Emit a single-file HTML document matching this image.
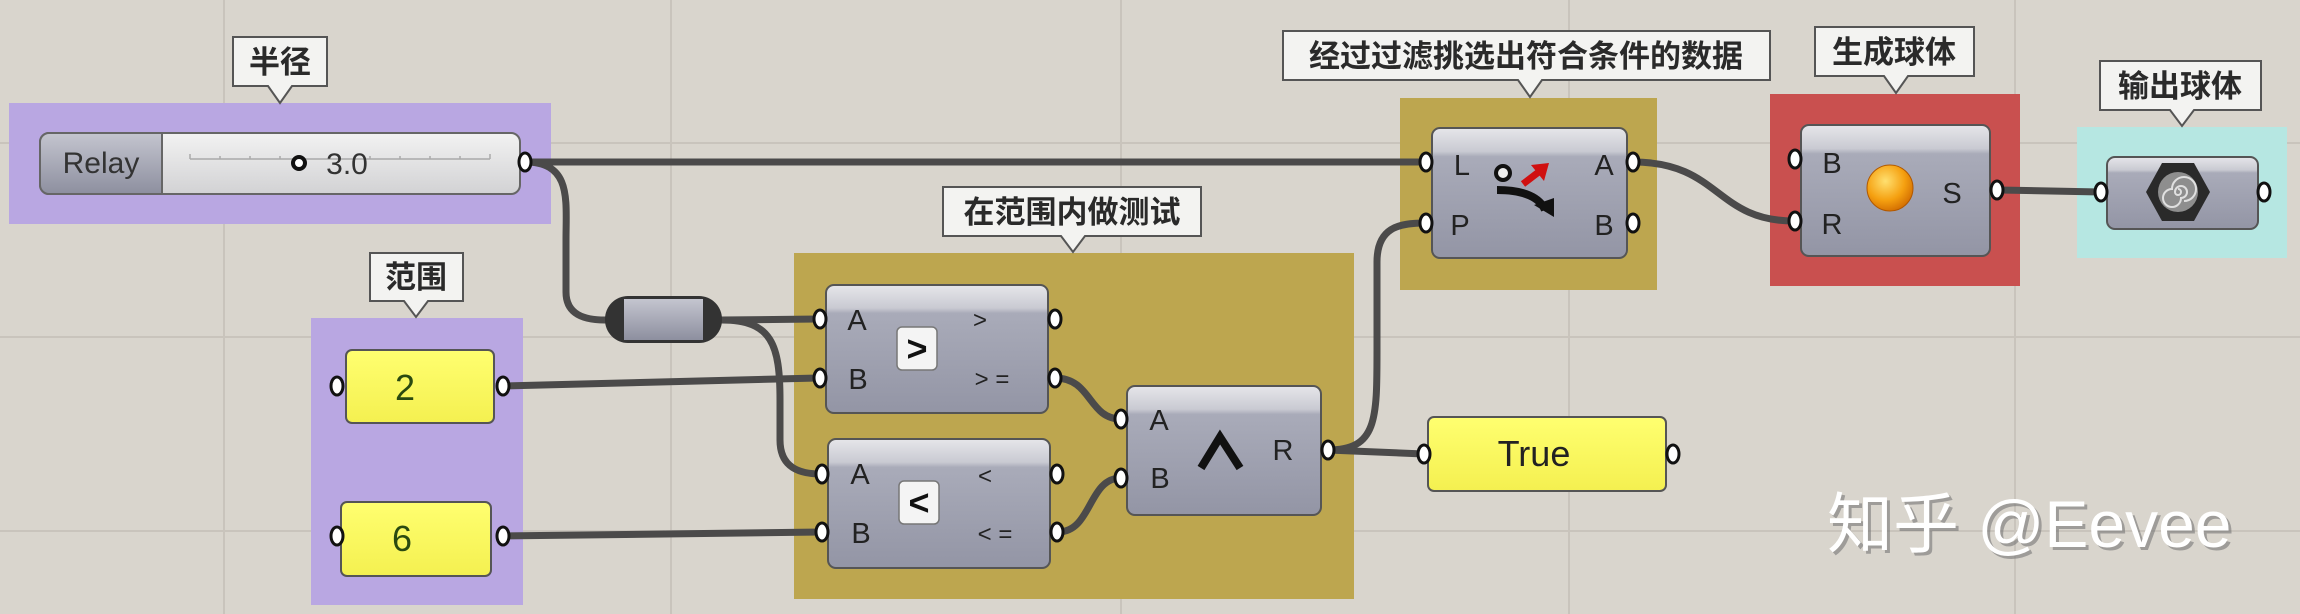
<!DOCTYPE html>
<html><head><meta charset="utf-8"><style>
html,body{margin:0;padding:0;background:#d9d5cd;}
svg{display:block}
text{font-family:"Liberation Sans","Noto Sans CJK SC",sans-serif;}
</style></head><body>
<svg width="2300" height="614" viewBox="0 0 2300 614" xmlns="http://www.w3.org/2000/svg">
<defs>
<linearGradient id="cg" x1="0" y1="0" x2="0" y2="1">
<stop offset="0" stop-color="#e6e6ea"/><stop offset="0.18" stop-color="#c9cad2"/><stop offset="0.22" stop-color="#a9abb9"/><stop offset="1" stop-color="#9395a5"/>
</linearGradient>
<linearGradient id="sl" x1="0" y1="0" x2="0" y2="1">
<stop offset="0" stop-color="#f2f2f2"/><stop offset="1" stop-color="#d2d2d4"/>
</linearGradient>
<linearGradient id="rb" x1="0" y1="0" x2="0" y2="1">
<stop offset="0" stop-color="#c4c5cf"/><stop offset="1" stop-color="#8d8f9f"/>
</linearGradient>
<linearGradient id="yl" x1="0" y1="0" x2="0" y2="1">
<stop offset="0" stop-color="#ffff70"/><stop offset="1" stop-color="#f4f050"/>
</linearGradient>
<radialGradient id="orb" cx="0.4" cy="0.35" r="0.7">
<stop offset="0" stop-color="#ffe070"/><stop offset="0.6" stop-color="#f5a010"/><stop offset="1" stop-color="#d06a00"/>
</radialGradient>
</defs>
<rect width="2300" height="614" fill="#d9d5cd"/>
<g stroke="#c9c4bc" stroke-width="2">
<line x1="224" y1="0" x2="224" y2="614"/><line x1="671" y1="0" x2="671" y2="614"/>
<line x1="1121" y1="0" x2="1121" y2="614"/><line x1="1569" y1="0" x2="1569" y2="614"/>
<line x1="2015" y1="0" x2="2015" y2="614"/>
<line x1="0" y1="143" x2="2300" y2="143"/><line x1="0" y1="337" x2="2300" y2="337"/><line x1="0" y1="531" x2="2300" y2="531"/>
</g>
<rect x="9" y="103" width="542" height="121" fill="#b9a7e2"/>
<rect x="311" y="318" width="212" height="287" fill="#b9a7e2"/>
<rect x="794" y="253" width="560" height="346" fill="#bda64f"/>
<rect x="1400" y="98" width="257" height="192" fill="#bda64f"/>
<rect x="1770" y="94" width="250" height="192" fill="#c9504f"/>
<rect x="2077" y="127" width="210" height="131" fill="#b6e7e2"/>
<g fill="none" stroke="#4b4a4a" stroke-width="7" stroke-linecap="round">
<path d="M525,162 L1425,162"/>
<path d="M525,162 C572,162 566,200 566,240 L566,292 C566,315 585,320 605,320"/>
<path d="M722,320 L818,319"/>
<path d="M722,320 C772,320 780,345 780,400 L780,440 C780,468 800,474 821,474"/>
<path d="M503,386 L818,378"/>
<path d="M503,536 L821,532"/>
<path d="M1055,378 C1092,378 1088,419 1121,419"/>
<path d="M1058,532 C1092,532 1088,478 1121,478"/>
<path d="M1328,450 L1424,454"/>
<path d="M1328,450 C1377,450 1377,420 1377,350 L1377,262 C1377,228 1398,223 1425,223"/>
<path d="M1633,162 C1720,162 1715,221 1794,221"/>
<path d="M1999,190 L2100,192"/>
</g>
<g fill="#f3f3f1" stroke="#555" stroke-width="2">
<path d="M233,37 H327 V86 H292 L280,103 L268,86 H233 Z"/>
<path d="M370,253 H463 V301 H428 L416,317 L404,301 H370 Z"/>
<path d="M943,187 H1201 V236 H1085 L1073,252 L1061,236 H943 Z"/>
<path d="M1283,31 H1770 V80 H1542 L1530,97 L1518,80 H1283 Z"/>
<path d="M1815,27 H1974 V76 H1908 L1896,93 L1884,76 H1815 Z"/>
<path d="M2100,61 H2261 V110 H2194 L2182,126 L2170,110 H2100 Z"/>
</g>
<g font-size="31" fill="#2a2a2a" text-anchor="middle" font-weight="bold">
<text x="280" y="73">半径</text>
<text x="416" y="288">范围</text>
<text x="1072" y="223">在范围内做测试</text>
<text x="1526" y="67">经过过滤挑选出符合条件的数据</text>
<text x="1894" y="63">生成球体</text>
<text x="2180" y="97">输出球体</text>
</g>
<rect x="40" y="133" width="480" height="61" rx="9" fill="url(#sl)" stroke="#666" stroke-width="2"/>
<path d="M49,133 H162 V194 H49 A9,9 0 0 1 40,185 V142 A9,9 0 0 1 49,133Z" fill="url(#rb)" stroke="#666" stroke-width="2"/>
<text x="101" y="173" font-size="30" fill="#333" text-anchor="middle">Relay</text>
<path d="M190,159 H490 M190,154 V159 M220,156 V159 M250,156 V159 M280,156 V159 M340,156 V159 M370,156 V159 M400,156 V159 M430,156 V159 M460,156 V159 M490,154 V159" stroke="#aaa" stroke-width="1.5" fill="none"/>
<circle cx="299" cy="163" r="6" fill="#fff" stroke="#111" stroke-width="4"/>
<text x="347" y="174" font-size="30" fill="#333" text-anchor="middle">3.0</text>
<rect x="605" y="296" width="117" height="47" rx="23" fill="#333"/>
<rect x="624" y="299" width="79" height="41" fill="url(#rb)"/>
<rect x="346" y="350" width="148" height="73" rx="6" fill="url(#yl)" stroke="#555" stroke-width="2"/>
<text x="405" y="400" font-size="36" fill="#2a4a10" text-anchor="middle">2</text>
<rect x="341" y="502" width="150" height="74" rx="6" fill="url(#yl)" stroke="#555" stroke-width="2"/>
<text x="402" y="551" font-size="36" fill="#2a4a10" text-anchor="middle">6</text>
<rect x="1428" y="417" width="238" height="74" rx="6" fill="url(#yl)" stroke="#555" stroke-width="2"/>
<text x="1534" y="466" font-size="36" fill="#222" text-anchor="middle">True</text>
<g stroke="#555" stroke-width="2" fill="url(#cg)">
<rect x="826" y="285" width="222" height="128" rx="8"/>
<rect x="828" y="439" width="222" height="129" rx="8"/>
<rect x="1127" y="386" width="194" height="129" rx="8"/>
<rect x="1432" y="128" width="195" height="130" rx="8"/>
<rect x="1801" y="125" width="189" height="131" rx="8"/>
<rect x="2107" y="157" width="151" height="72" rx="8"/>
</g>
<g font-size="29" fill="#222" text-anchor="middle">
<text x="857" y="330">A</text><text x="858" y="389">B</text>
<text x="980" y="328" font-size="24">&gt;</text><text x="992" y="387" font-size="24">&gt; =</text>
<text x="860" y="484">A</text><text x="861" y="543">B</text>
<text x="985" y="484" font-size="24">&lt;</text><text x="995" y="542" font-size="24">&lt; =</text>
<text x="1159" y="430">A</text><text x="1160" y="488">B</text><text x="1283" y="460">R</text>
<text x="1462" y="175">L</text><text x="1460" y="235">P</text><text x="1604" y="175">A</text><text x="1604" y="235">B</text>
<text x="1832" y="173">B</text><text x="1832" y="234">R</text><text x="1952" y="203">S</text>
</g>
<rect x="897" y="327" width="40" height="43" rx="5" fill="#f4f4f4" stroke="#777" stroke-width="1.5"/>
<text x="917" y="361" font-size="36" font-weight="bold" fill="#111" text-anchor="middle">&gt;</text>
<rect x="899" y="481" width="40" height="43" rx="5" fill="#f4f4f4" stroke="#777" stroke-width="1.5"/>
<text x="919" y="515" font-size="36" font-weight="bold" fill="#111" text-anchor="middle">&lt;</text>
<path d="M1201,468 L1220,437 L1240,468" fill="none" stroke="#111" stroke-width="8"/>
<circle cx="1503" cy="173" r="7" fill="#eee" stroke="#111" stroke-width="4"/>
<path d="M1497,190 C1525,190 1540,198 1545,210" fill="none" stroke="#111" stroke-width="8"/>
<path d="M1534,205 L1554,217 L1554,198 Z" fill="#111"/>
<path d="M1523,184 L1540,171" stroke="#d01010" stroke-width="7"/>
<path d="M1531,165 L1549,163 L1544,181 Z" fill="#d01010"/>
<circle cx="1890" cy="188" r="23" fill="url(#orb)" stroke="#b05800" stroke-width="1"/>
<path d="M2162,163 H2194 L2210,192 L2194,221 H2162 L2146,192 Z" fill="#2a2a2a"/>
<circle cx="2178" cy="192" r="20" fill="#8e8e8e"/>
<path d="M2178,192 m0,-3 a3,3 0 1 1 -3,3 a6,6 0 1 1 6,6 a9,9 0 1 1 -9,-9 a12,12 0 1 1 12,12" fill="none" stroke="#e0e0e0" stroke-width="2"/>
<g fill="#fff" stroke="#111" stroke-width="3">
<ellipse cx="525" cy="162" rx="6" ry="9"/>
<ellipse cx="337" cy="386" rx="6" ry="9"/><ellipse cx="503" cy="386" rx="6" ry="9"/>
<ellipse cx="337" cy="536" rx="6" ry="9"/><ellipse cx="503" cy="536" rx="6" ry="9"/>
<ellipse cx="820" cy="319" rx="6" ry="9"/><ellipse cx="820" cy="378" rx="6" ry="9"/>
<ellipse cx="1055" cy="319" rx="6" ry="9"/><ellipse cx="1055" cy="378" rx="6" ry="9"/>
<ellipse cx="822" cy="474" rx="6" ry="9"/><ellipse cx="822" cy="532" rx="6" ry="9"/>
<ellipse cx="1057" cy="474" rx="6" ry="9"/><ellipse cx="1057" cy="532" rx="6" ry="9"/>
<ellipse cx="1121" cy="419" rx="6" ry="9"/><ellipse cx="1121" cy="478" rx="6" ry="9"/>
<ellipse cx="1328" cy="450" rx="6" ry="9"/>
<ellipse cx="1424" cy="454" rx="6" ry="9"/><ellipse cx="1673" cy="454" rx="6" ry="9"/>
<ellipse cx="1426" cy="162" rx="6" ry="9"/><ellipse cx="1426" cy="223" rx="6" ry="9"/>
<ellipse cx="1633" cy="162" rx="6" ry="9"/><ellipse cx="1633" cy="223" rx="6" ry="9"/>
<ellipse cx="1795" cy="159" rx="6" ry="9"/><ellipse cx="1795" cy="221" rx="6" ry="9"/>
<ellipse cx="1997" cy="190" rx="6" ry="9"/>
<ellipse cx="2101" cy="192" rx="6" ry="9"/><ellipse cx="2264" cy="192" rx="6" ry="9"/>
</g>
<text x="1830" y="550" font-size="66" fill="#777" opacity="0.6">知乎 @Eevee</text>
<text x="1827" y="547" font-size="66" fill="#ffffff">知乎 @Eevee</text>
</svg>
</body></html>
